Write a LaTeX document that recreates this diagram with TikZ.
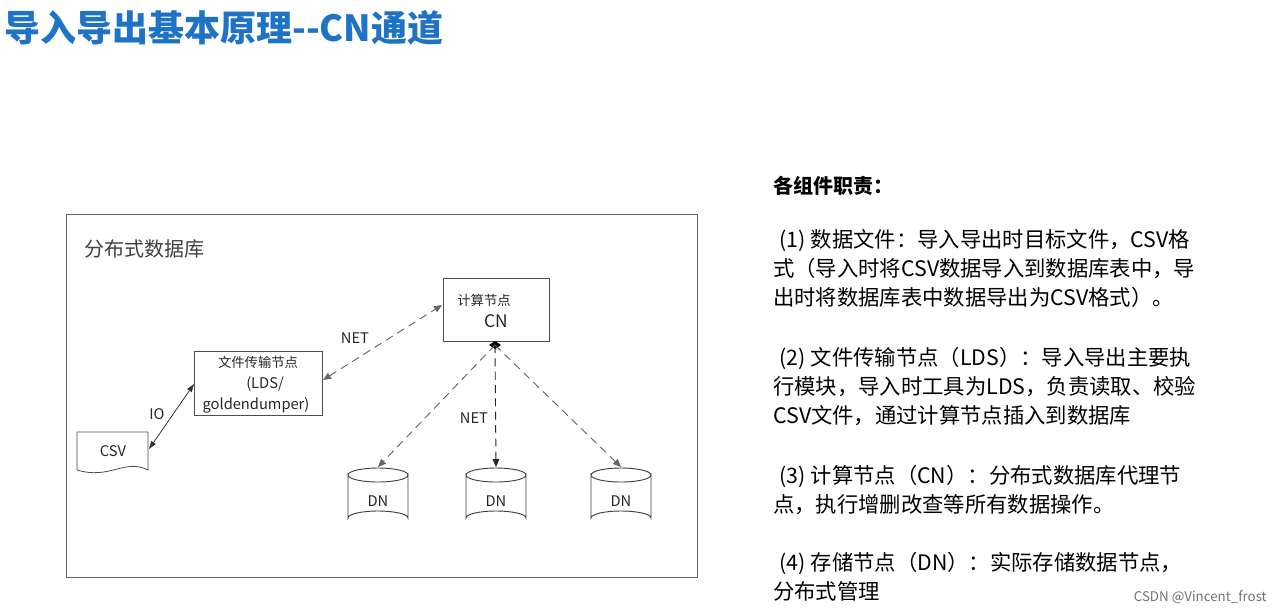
\documentclass[tikz,border=0pt]{standalone}
\usepackage{fontspec}
\setmainfont{Noto Sans CJK SC}
\usetikzlibrary{arrows.meta}
\definecolor{ttl}{HTML}{1F73C4}
\tikzset{
  box/.style={draw=black!70, line width=0.6pt, fill=white, inner sep=0pt},
  lab/.style={font=\fontsize{11}{13}\selectfont, text=black!85},
  dashline/.style={dashed, dash pattern=on 6pt off 4pt, draw=black!60, line width=0.7pt, -{Triangle[length=6pt,width=5pt]}},
  para/.style={anchor=north west, align=left, font=\fontsize{16}{21.75}\selectfont, inner sep=0pt}
}
\begin{document}
\begin{tikzpicture}[x=0.75pt,y=-0.75pt]
\useasboundingbox (0,0) rectangle (1282,615);
\fill[white] (0,0) rectangle (1282,615);
\node[anchor=west, text=ttl, font=\fontsize{27}{30}\selectfont\bfseries, inner sep=0pt] (title) at (4,28) {导入导出基本原理-{}-CN通道};
\node[draw=black!60, line width=0.8pt, minimum width=631*0.75pt, minimum height=363*0.75pt, anchor=north west] (outer) at (66,214) {};
\node[anchor=west, inner sep=0pt, font=\fontsize{15}{17}\selectfont, text=black!75] (db) at (84,249) {分布式数据库};
\node[box, minimum width=106*0.75pt, minimum height=63*0.75pt, anchor=north west] (cn) at (443,278) {};
\node[lab, font=\fontsize{10}{12}\selectfont] (cnt1) at (484,300) {计算节点};
\node[lab, font=\fontsize{13}{15}\selectfont] (cnt2) at (496,321) {CN};
\node[box, minimum width=128*0.75pt, minimum height=64*0.75pt, anchor=north west] (lds) at (194,351) {};
\node[lab, font=\fontsize{10}{12}\selectfont] (l1) at (258,362) {文件传输节点};
\node[lab] (l2) at (265,384) {(LDS/};
\node[lab] (l3) at (256,405) {goldendumper)};
% CSV document
\draw[draw=black!70, line width=0.6pt, fill=white] (77,432) -- (148,432) -- (148,470) .. controls (125,458) and (110,480) .. (77,470) -- cycle;
\node[lab, font=\fontsize{11}{13}\selectfont] (csv) at (113,451) {CSV};
\coordinate (csvr) at (149,449);
% DN cylinders
\foreach \n/\x in {d1/378,d2/496,d3/621}{
  \draw[draw=black!75, line width=0.7pt, fill=white] (\x-30,475) -- (\x-30,518) arc[start angle=180,end angle=360,x radius=30,y radius=7] -- (\x+30,475) arc[start angle=0,end angle=180,x radius=30,y radius=7] -- cycle;
  \draw[draw=black!75, line width=0.7pt] (\x-30,475) arc[start angle=180,end angle=360,x radius=30,y radius=7];
  \node[lab, font=\fontsize{11}{13}\selectfont] (\n) at (\x,501) {DN};
  \coordinate (\n t) at (\x,467);
}
\coordinate (cnb) at (495,345);
\coordinate (ldse) at (323,380);
\coordinate (cnw) at (442,305);
\fill[black] (495,341) -- (501,345) -- (495,349) -- (489,345) -- cycle;
\draw[dashline, {Triangle[length=6pt,width=5pt]}-{Triangle[length=6pt,width=5pt]}] (ldse) -- (cnw);
\draw[dashline] (cnb) -- (d1t);
\draw[dashline, draw=black!85] (cnb) -- (d2t);
\draw[dashline] (cnb) -- (d3t);
\coordinate (ldsw) at (194,384);
\draw[black!80, line width=0.6pt, {Triangle[length=6pt,width=4pt]}-{Triangle[length=6pt,width=4pt]}] (csvr) -- (ldsw);
\node[lab] (net1) at (355,338) {NET};
\node[lab] (net2) at (474,418) {NET};
\node[lab] (io) at (157,414) {IO};
% right text
\node[anchor=west, inner sep=0pt, font=\fontsize{15}{18}\selectfont\bfseries] (hd) at (773,186) {各组件职责：};
\node[para] (p1) at (773,229) {\hspace*{0.3em}(1) 数据文件：导入导出时目标文件，CSV格\\式（导入时将CSV数据导入到数据库表中，导\\出时将数据库表中数据导出为CSV格式）。};
\node[para] (p2) at (773,347) {\hspace*{0.3em}(2) 文件传输节点（LDS）：导入导出主要执\\行模块，导入时工具为LDS，负责读取、校验\\CSV文件，通过计算节点插入到数据库};
\node[para] (p3) at (773,465) {\hspace*{0.3em}(3) 计算节点（CN）：分布式数据库代理节\\点，执行增删改查等所有数据操作。};
\node[para] (p4) at (773,552) {\hspace*{0.3em}(4) 存储节点（DN）：实际存储数据节点，\\分布式管理};
\node[anchor=east, inner sep=0pt, text=black!55, font=\fontsize{10}{12}\selectfont] (wm) at (1267,597) {CSDN @Vincent\_frost};
\end{tikzpicture}
\end{document}
